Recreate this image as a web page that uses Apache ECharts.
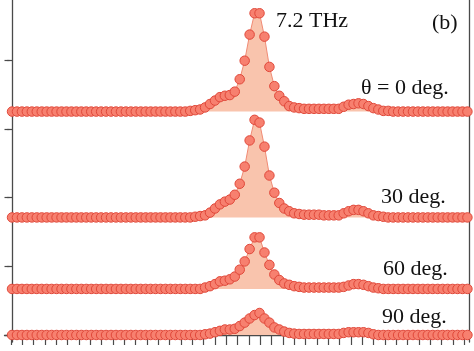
<!DOCTYPE html>
<html>
<head>
<meta charset="utf-8">
<script src="https://cdn.jsdelivr.net/npm/echarts@6/dist/echarts.min.js"></script>
<style>
  html, body { margin: 0; padding: 0; background: #fff; }
  #chart { width: 474px; height: 351px; }
</style>
</head>
<body>
<div id="chart"></div>
<script>
// spectra, one value per sample point (offset removed)
var sig0 = [0,0,0,0,0,0,0,0,0,0, 0,0,0,0,0,0,0,0,0,0, 0,0,0,0,0,0,0,0,0,0, 0,0,0,0,0,0,
  0.01,0.02,0.03,0.06,0.11,0.16,0.21,0.23,0.24,0.29,0.47,0.74,1.12,1.43,1.43,1.09,0.65,0.37,0.23,0.15,0.08,0.06,0.05,0.04,
  0.04,0.04,0.04,0.04,0.04,0.04,0.04,
  0.07,0.10,0.11,0.12,0.11,0.08,0.05,0.03,0.01,0.01,
  0,0,0,0,0,0,0,0,0,0,0,0,0,0,0,0];
var sig30 = [0,0,0,0,0,0,0,0,0,0, 0,0,0,0,0,0,0,0,0,0, 0,0,0,0,0,0,0,0,0,0, 0,0,0,0,0,0,0,
  0.01,0.02,0.03,0.07,0.13,0.19,0.23,0.26,0.33,0.49,0.74,1.12,1.42,1.38,1.03,0.61,0.36,0.21,0.13,0.09,0.06,0.05,
  0.04,0.04,0.04,0.04,0.03,0.03,0.03,0.03,
  0.06,0.09,0.11,0.11,0.09,0.06,0.03,0.02,0.01,
  0,0,0,0,0,0,0,0,0,0,0,0,0,0,0,0,0];
var sig60 = [0,0,0,0,0,0,0,0,0,0, 0,0,0,0,0,0,0,0,0,0, 0,0,0,0,0,0,0,0,0,0, 0,0,0,0,0,0,0,0,
  0,0.02,0.04,0.07,0.11,0.12,0.14,0.18,0.28,0.40,0.58,0.75,0.75,0.53,0.35,0.21,0.13,0.08,0.06,0.04,0.03,
  0.02,0.02,0.02,0.02,0.02,0.02,0.02,0.02,
  0.03,0.05,0.07,0.07,0.06,0.04,0.02,0.01,
  0,0,0,0,0,0,0,0,0,0,0,0,0,0,0,0,0,0];
var sig90 = [0,0,0,0,0,0,0,0,0,0, 0,0,0,0,0,0,0,0,0,0, 0,0,0,0,0,0,0,0,0,0, 0,0,0,0,0,0,0,0,0,
  0.01,0.02,0.04,0.06,0.08,0.08,0.09,0.13,0.18,0.24,0.29,0.32,0.24,0.18,0.11,0.08,0.05,0.03,0.02,
  0.015,0.015,0.015,0.015,0.015,0.015,0.015,0.015,0.015,
  0.03,0.04,0.04,0.04,0.04,0.03,0.01,
  0,0,0,0,0,0,0,0,0,0,0,0,0,0,0,0,0,0,0];

// vertical offsets of each trace
var offsets = [3.25, 1.71, 0.67, 0];
var traceNames = ["θ = 0 deg.", "30 deg.", "60 deg.", "90 deg."];

// tick positions (no labels shown)
var xTicks = [3,3.2,3.4,3.6,3.8,4,4.2,4.4,4.6,4.8,5,5.2,5.4,5.6,5.8,6,6.2,6.4,6.6,6.8,
  7,7.2,7.4,7.6,7.8,8,8.2,8.4,8.6,8.8,9,9.2,9.4,9.6,9.8,10,10.2,10.4,10.6,10.8,11];
var yTicks = [0, 1, 2, 3, 4];

var myChart = echarts.init(document.getElementById("chart"));

var axisColor = "#4a4a4a";
var yMin = -0.102, yMax = 4.873;

function makeSeries(sig, offset) {
  var pts = [];
  sig.forEach(function (v, i) {
    pts.push([i, v + offset]);
  });
  return {
    type: "line",
    xAxisIndex: 0,
    yAxisIndex: 0,
    data: pts,
    symbol: "circle",
    symbolSize: 9.5,
    showAllSymbol: true,
    lineStyle: { color: "#f08a74", width: 1 },
    itemStyle: { color: "#f7806f", borderColor: "#e0483a", borderWidth: 1 },
    areaStyle: { color: "#f9c4ad", opacity: 1, origin: offset },
    animation: false,
  };
}

var serif = "'Liberation Serif', 'Times New Roman', serif";

function label(text, x, y) {
  return {
    type: "text",
    left: x,
    top: y,
    style: { text: text, font: "22px " + serif, fill: "#111", textVerticalAlign: "middle" },
  };
}

myChart.setOption({
  animation: false,
  grid: { left: 4.5, right: 4.5, top: 0, bottom: 9 },
  xAxis: [
    { type: "value", min: -1.52, max: 92.42, show: false },
    {
      type: "value",
      min: 2.885,
      max: 11.09,
      position: "bottom",
      axisLine: { show: true, lineStyle: { color: axisColor, width: 1.3 } },
      axisTick: { show: true, inside: false, length: 10, customValues: xTicks, lineStyle: { color: axisColor, width: 1.2 } },
      axisLabel: { show: false },
      splitLine: { show: false },
    },
  ],
  yAxis: [
    {
      type: "value", min: yMin, max: yMax, position: "left",
      axisLine: { show: true, lineStyle: { color: axisColor, width: 1.3 } },
      axisTick: { show: true, inside: false, length: 5, customValues: yTicks, lineStyle: { color: axisColor, width: 1.2 } },
      axisLabel: { show: false },
      splitLine: { show: false },
    },
    {
      type: "value", min: yMin, max: yMax, position: "left",
      axisLine: { show: false },
      axisTick: { show: true, inside: true, length: 5, customValues: yTicks, lineStyle: { color: axisColor, width: 1.2 } },
      axisLabel: { show: false },
      splitLine: { show: false },
    },
    {
      type: "value", min: yMin, max: yMax, position: "right",
      axisLine: { show: true, lineStyle: { color: axisColor, width: 1.3 } },
      axisTick: { show: false },
      axisLabel: { show: false },
      splitLine: { show: false },
    },
  ],
  series: [
    makeSeries(sig0, offsets[0]),
    makeSeries(sig30, offsets[1]),
    makeSeries(sig60, offsets[2]),
    makeSeries(sig90, offsets[3]),
  ],
  graphic: [
    label("7.2 THz", 276, 10),
    label("(b)", 432, 12),
    label(traceNames[0], 361, 77),
    label(traceNames[1], 381, 186),
    label(traceNames[2], 383, 258),
    label(traceNames[3], 382, 306),
  ],
});

window.addEventListener("resize", function () {
  if (myChart != null && myChart != undefined) {
    myChart.resize();
  }
});
</script>
</body>
</html>
